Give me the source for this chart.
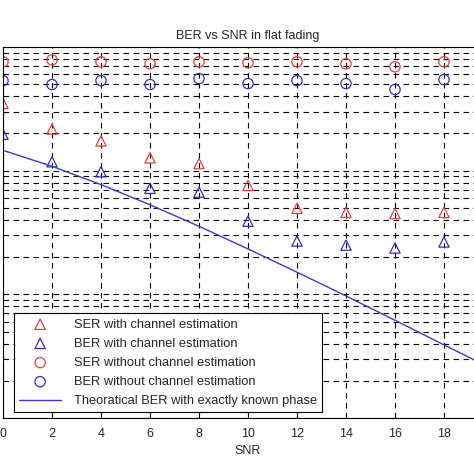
import numpy as np, pandas as pd, seaborn as sns, matplotlib
matplotlib.use("Agg")
import matplotlib.pyplot as plt

snr = [0, 2, 4, 6, 8, 10, 12, 14, 16, 18]
ser_est = [0.350, 0.217, 0.174, 0.127, 0.114, 0.076, 0.0497, 0.046, 0.045, 0.046]
ber_est = [0.197, 0.118, 0.098, 0.072, 0.067, 0.039, 0.027, 0.025, 0.0237, 0.0265]
ser_noest = [0.759, 0.787, 0.759, 0.731, 0.759, 0.745, 0.759, 0.731, 0.692, 0.759]
ber_noest = [0.535, 0.497, 0.535, 0.497, 0.555, 0.506, 0.535, 0.506, 0.453, 0.545]
snr_theory = [0, 2, 4, 6, 8, 10, 12, 14, 16, 18, 20]
ber_theory = [0.146, 0.1085, 0.0771, 0.0530, 0.0355, 0.0233, 0.0151, 0.0097, 0.00617, 0.0039, 0.00248]
xtick_labels = ['0', '2', '4', '6', '8', '10', '12', '14', '16', '18', '']

sns.set_style("white")
plt.rcParams['font.family'] = ['Liberation Sans', 'DejaVu Sans']
fig = plt.figure(figsize=(4.74, 4.74), dpi=100)
ax = fig.add_axes([3/474, 56/474, 490/474, 371/474])

kw = dict(s=55, facecolors='none', linewidth=0.9, ax=ax)
sns.scatterplot(x=snr, y=ser_est, marker='^', edgecolor='#e04040', label='SER with channel estimation', **kw)
sns.scatterplot(x=snr, y=ber_est, marker='^', edgecolor='#3030c0', label='BER with channel estimation', **kw)
sns.scatterplot(x=snr, y=ser_noest, marker='o', edgecolor='#e04040', label='SER without channel estimation', **kw)
sns.scatterplot(x=snr, y=ber_noest, marker='o', edgecolor='#3030c0', label='BER without channel estimation', **kw)
sns.lineplot(x=snr_theory, y=ber_theory, color='#3a3ad0', linewidth=1.0, ax=ax,
             label='Theoratical BER with exactly known phase')

ax.set_yscale('log')
ax.set_ylim(1e-3, 1)
ax.set_xlim(0, 20)
ax.set_xticks(range(0, 21, 2))
ax.set_xticklabels(xtick_labels)
ax.tick_params(labelsize=9)
ax.set_yticklabels([])
ax.grid(True, which='both', axis='y', color='black', linestyle=(0, (5, 4)), linewidth=0.8)
ax.grid(True, which='major', axis='x', color='black', linestyle=(0, (5, 4)), linewidth=0.8)
for s in ax.spines.values():
    s.set_color('black'); s.set_linewidth(0.8)
ax.set_title('BER vs SNR in flat fading', fontsize=9)
ax.set_xlabel('SNR', fontsize=9)
leg = ax.legend(loc='lower left', bbox_to_anchor=(0.023, 0.015), fontsize=9.3, frameon=True,
                fancybox=False, edgecolor='black', framealpha=1, borderaxespad=0,
                handlelength=3.2, labelspacing=0.55, handletextpad=1.0)
leg.get_frame().set_linewidth(0.8)
fig.savefig('out.png', dpi=100)
